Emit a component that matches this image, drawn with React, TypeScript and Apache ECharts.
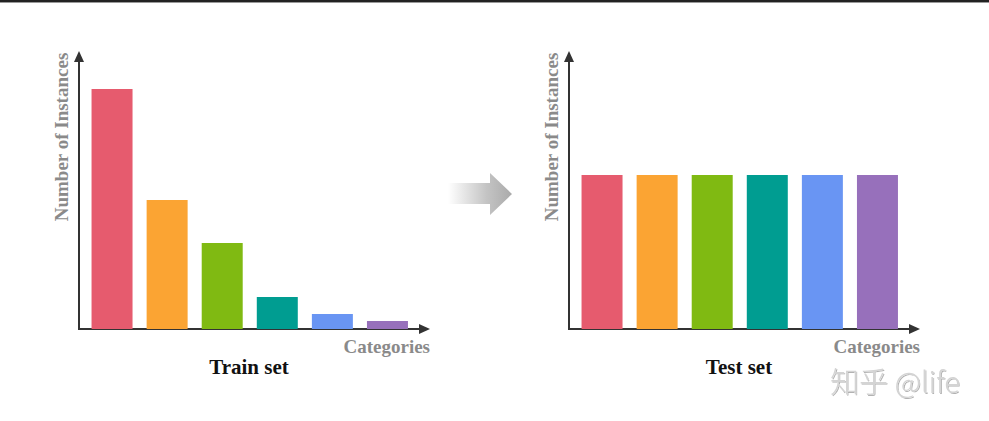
import { useEffect, useRef } from 'react';
import * as echarts from 'echarts';

const categories = ['A', 'B', 'C', 'D', 'E', 'F'];
const barColors = ['#e65b6e', '#fba433', '#80ba12', '#009d91', '#6995f3', '#9770bb'];
const trainValues = [240, 129, 86, 32, 15, 8];
const testValues = [154, 154, 154, 154, 154, 154];
const panelTitles = ['Train set', 'Test set'];
const yAxisLabel = 'Number of Instances';
const xAxisLabel = 'Categories';

const SERIF = '"Liberation Serif", "DejaVu Serif", serif';
const OFFSET = 490;

function axisGraphics(dx: number, title: string) {
    const ox = 79 + dx;
    const oy = 329;
    return [
        { type: 'line', shape: { x1: ox, y1: oy, x2: ox, y2: 60 }, style: { stroke: '#333', lineWidth: 2 } },
        { type: 'polygon', shape: { points: [[ox, 51], [ox - 5, 62], [ox + 5, 62]] }, style: { fill: '#333' } },
        { type: 'line', shape: { x1: ox - 1, y1: oy, x2: 420 + dx, y2: oy }, style: { stroke: '#333', lineWidth: 2 } },
        { type: 'polygon', shape: { points: [[430 + dx, oy], [419 + dx, oy - 5], [419 + dx, oy + 5]] }, style: { fill: '#333' } },
        {
            type: 'text', x: 61 + dx, y: 137, rotation: Math.PI / 2,
            style: { text: yAxisLabel, fill: '#8a8a8a', font: `bold 19px ${SERIF}`, align: 'center', verticalAlign: 'middle' }
        },
        {
            type: 'text', x: 430 + dx, y: 346,
            style: { text: xAxisLabel, fill: '#8a8a8a', font: `bold 19px ${SERIF}`, align: 'right', verticalAlign: 'middle' }
        },
        {
            type: 'text', x: 249 + dx, y: 367,
            style: { text: title, fill: '#111', font: `bold 21px ${SERIF}`, align: 'center', verticalAlign: 'middle' }
        }
    ];
}

export default function App() {
    const chartRef = useRef<HTMLDivElement>(null);

    useEffect(() => {
        if (!chartRef.current) return;
        document.body.style.margin = '0';
        const chart = echarts.init(chartRef.current, null, { renderer: 'svg' });

        const grids = [0, 1].map(i => ({
            left: 84.5 + i * OFFSET,
            top: 49,
            width: 330.5,
            height: 280
        }));

        const option: echarts.EChartsOption = {
            animation: false,
            backgroundColor: '#fff',
            grid: grids,
            xAxis: [0, 1].map(i => ({
                type: 'category',
                gridIndex: i,
                data: categories,
                show: false
            })),
            yAxis: [0, 1].map(i => ({
                type: 'value',
                gridIndex: i,
                min: 0,
                max: 280,
                show: false
            })),
            series: [trainValues, testValues].map((vals, i) => ({
                type: 'bar',
                xAxisIndex: i,
                yAxisIndex: i,
                barWidth: 41,
                data: vals.map((v, j) => ({ value: v, itemStyle: { color: barColors[j] } }))
            })),
            graphic: [
                { type: 'rect', shape: { x: 0, y: 0, width: 989, height: 2 }, style: { fill: '#222' } },
                { type: 'rect', shape: { x: 0, y: 2, width: 989, height: 1 }, style: { fill: '#999' } },
                ...axisGraphics(0, panelTitles[0]),
                ...axisGraphics(OFFSET, panelTitles[1]),
                {
                    type: 'polygon',
                    shape: { points: [[448, 183], [490, 183], [490, 173], [512, 194], [490, 215], [490, 204], [448, 204]] },
                    style: {
                        fill: new echarts.graphic.LinearGradient(0, 0, 1, 0, [
                            { offset: 0, color: 'rgba(255,255,255,1)' },
                            { offset: 0.6, color: '#c4c4c4' },
                            { offset: 1, color: '#aaaaaa' }
                        ])
                    }
                },
                {
                    type: 'text', x: 895, y: 380,
                    style: {
                        text: '知乎 @life', fill: '#d4d4d4', font: '300 29px "Noto Sans CJK SC", sans-serif',
                        align: 'center', verticalAlign: 'middle',
                        textShadowColor: 'rgba(0,0,0,0.3)', textShadowBlur: 1, textShadowOffsetX: 1, textShadowOffsetY: 1
                    }
                }
            ] as any
        };

        chart.setOption(option);
        return () => chart.dispose();
    }, []);

    return <div ref={chartRef} style={{ width: 989, height: 421 }} />;
}
